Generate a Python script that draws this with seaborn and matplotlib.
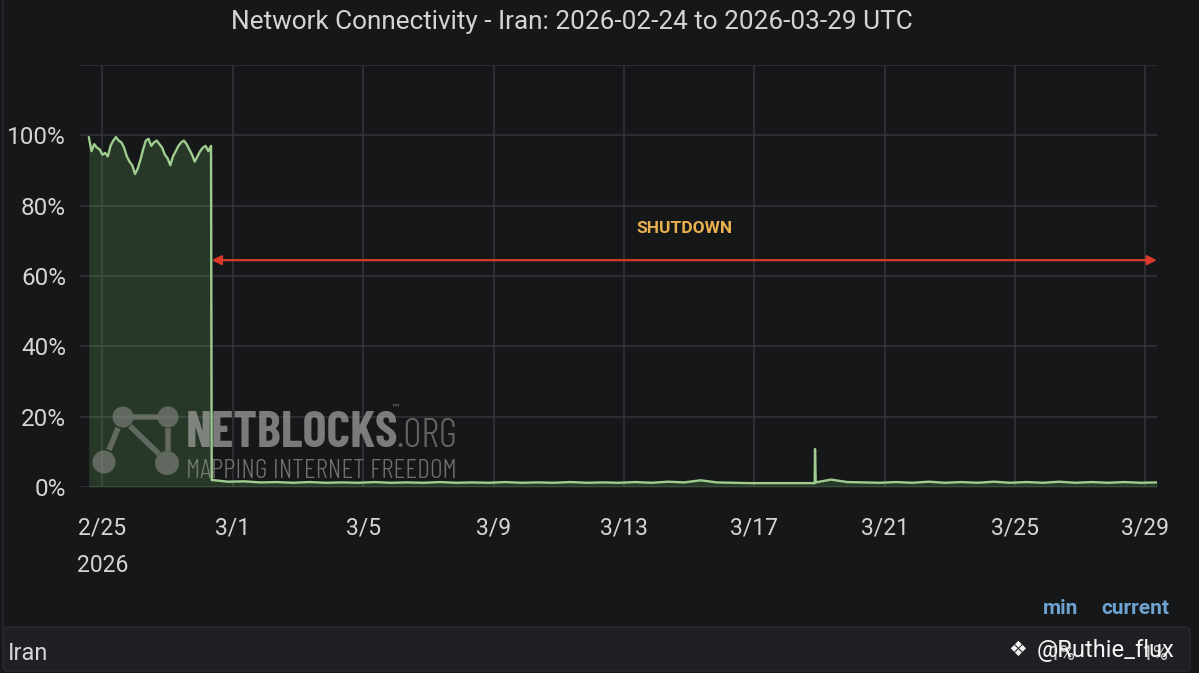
import matplotlib
matplotlib.use("Agg")
import matplotlib.pyplot as plt
import matplotlib.patches as mpatches
import numpy as np
import pandas as pd
import seaborn as sns

# connectivity before the shutdown, every 2 hours from 2026-02-24 14:00 UTC (%)
pre_start = "2026-02-24 14:00"
pre_values = [
    99.5, 95.5, 97.5, 96.5, 96.0, 94.5, 95.0, 94.0, 97.0, 98.5,
    99.5, 98.5, 98.0, 96.5, 94.0, 92.5, 91.5, 89.0, 90.5, 93.0,
    96.0, 98.5, 99.0, 97.0, 98.0, 98.5, 97.5, 96.5, 94.5, 93.5,
    91.5, 94.0, 95.5, 97.0, 98.0, 98.5, 97.5, 96.0, 94.5, 92.5,
    94.0, 95.5, 96.5, 97.0, 95.5, 97.0,
]

# connectivity during the shutdown, every 12 hours from 2026-02-28 08:30 UTC (%)
post_start = "2026-02-28 08:30"
post_values = [
    2.0, 1.5, 1.6, 1.3, 1.4, 1.2, 1.4, 1.2, 1.3, 1.2,
    1.4, 1.2, 1.3, 1.2, 1.4, 1.2, 1.3, 1.2, 1.4, 1.2,
    1.3, 1.2, 1.4, 1.2, 1.3, 1.2, 1.4, 1.2, 1.5, 1.3,
    1.9, 1.3, 1.2, 1.1, 1.1, 1.1, 1.1, 1.1, 2.1, 1.4,
    1.3, 1.2, 1.4, 1.2, 1.5, 1.2, 1.4, 1.2, 1.5, 1.2,
    1.4, 1.2, 1.5, 1.2, 1.4, 1.2, 1.4, 1.2, 1.3,
]

# short spike on 3/18
spike_times = ["2026-03-18 20:45", "2026-03-18 21:15"]
spike_values = [10.8, 1.3]

x_ticks = ["2026-02-25", "2026-03-01", "2026-03-05", "2026-03-09", "2026-03-13",
           "2026-03-17", "2026-03-21", "2026-03-25", "2026-03-29"]
x_labels = ["2/25\n2026", "3/1", "3/5", "3/9", "3/13", "3/17", "3/21", "3/25", "3/29"]
y_ticks = [0, 20, 40, 60, 80, 100, 120]
y_labels = ["0%", "20%", "40%", "60%", "80%", "100%", ""]

title = "Network Connectivity - Iran: 2026-02-24 to 2026-03-29 UTC"
series_name = "Iran"
legend_cols = ["min", "current"]
legend_vals = ["1%", "1%"]

pre = pd.DataFrame({
    "time": pd.date_range(pre_start, periods=len(pre_values), freq="2h"),
    "value": pre_values,
})
post = pd.DataFrame({
    "time": pd.date_range(post_start, periods=len(post_values), freq="12h"),
    "value": post_values,
})
spike = pd.DataFrame({"time": pd.to_datetime(spike_times), "value": spike_values})
df = pd.concat([pre, post, spike]).sort_values("time").reset_index(drop=True)

bg = "#161719"
text_c = "#d3d4d6"
grid_c = "#34353a"
line_c = "#9fcd8f"

sns.set_theme(style="dark", rc={
    "figure.facecolor": bg,
    "axes.facecolor": bg,
    "savefig.facecolor": bg,
    "axes.edgecolor": bg,
    "text.color": text_c,
    "xtick.color": text_c,
    "ytick.color": text_c,
})
plt.rcParams["font.family"] = ["Roboto", "DejaVu Sans"]

fig = plt.figure(figsize=(11.99, 6.73), dpi=100)
ax = fig.add_axes([0.0667, 0.2764, 0.8982, 0.6270])

ax.fill_between(df["time"], df["value"], 0, color="#73bf69", alpha=0.2, lw=0, zorder=2)
sns.lineplot(data=df, x="time", y="value", ax=ax, color=line_c, linewidth=1.7, zorder=3)

ax.set_xlim(pd.Timestamp("2026-02-24 07:30"), pd.Timestamp("2026-03-29 08:30"))
ax.set_ylim(0, 120)
ax.set_xticks(pd.to_datetime(x_ticks))
ax.set_xticklabels(x_labels, fontsize=16.5, linespacing=1.85, va="top")
ax.set_yticks(y_ticks)
ax.set_yticklabels(y_labels, fontsize=17.5)
ax.tick_params(axis="x", length=0, pad=21)
ax.tick_params(axis="y", length=0, pad=10)
ax.grid(True, color=grid_c, linewidth=1.1)
ax.set_axisbelow(True)
ax.set_xlabel("")
ax.set_ylabel("")
for s in ax.spines.values():
    s.set_visible(False)

# shutdown span, from the drop to the latest sample
shut_start = post["time"].iloc[0]
shut_end = df["time"].iloc[-1]
arrow_y = 64.5
ax.annotate("", xy=(shut_start, arrow_y), xytext=(shut_end, arrow_y),
            arrowprops=dict(arrowstyle="<|-|>", color="#d93a2b", lw=1.6,
                            mutation_scale=14, shrinkA=0, shrinkB=0), zorder=5)
ax.text(shut_start + (shut_end - shut_start) / 2, 73.5, "SHUTDOWN",
        color="#e9b14f", fontsize=12.5, fontweight="bold", ha="center", va="center")

# overlay in pixel coordinates for title, watermark and legend
ov = fig.add_axes([0, 0, 1, 1], zorder=10)
ov.set_xlim(0, 1199)
ov.set_ylim(673, 0)
ov.axis("off")
ov.patch.set_alpha(0)

ov.text(572, 22, title, fontsize=18.8, color=text_c, ha="center", va="center")

# legend band
ov.add_patch(mpatches.FancyBboxPatch((3, 627), 1187, 44, boxstyle="round,pad=0,rounding_size=5",
                                     facecolor="#1f2023", edgecolor="#2a2b2f", lw=1))
ov.plot([3, 3], [0, 640], color="#26272b", lw=1.2)
ov.text(8, 653, series_name, fontsize=17, color=text_c, ha="left", va="center")
for cx, lab in zip([1061, 1135], legend_cols):
    ov.text(cx, 609, lab, fontsize=15, color="#6ea3d1", ha="center", va="center", fontweight="bold")
for cx, val in zip([1062, 1155], legend_vals):
    ov.text(cx, 654, val, fontsize=15, color="#c8c9cb", ha="center", va="center")

# repost watermark
ov.text(1018, 650, "\u2756", fontsize=15, color="#f2f2f2", ha="center", va="center",
        family=["DejaVu Sans"])
ov.text(1037, 650, "@Ruthie_flux", fontsize=17, color="#f4f4f4", ha="left", va="center")

# NetBlocks watermark
wm = "#8f918e"
for (cx, cy, r) in [(123, 417, 10.5), (168, 417, 10.5), (104, 462, 11.5), (167, 463, 12)]:
    ov.add_patch(mpatches.Circle((cx, cy), r, color=wm, alpha=0.55, lw=0))
for (x0, y0, x1, y1) in [(133, 417, 158, 417), (118, 428, 109, 450), (130, 426, 159, 454),
                         (168, 428, 168, 451)]:
    ov.plot([x0, x1], [y0, y1], color=wm, alpha=0.55, lw=4, solid_capstyle="butt")
narrow = ["Barlow Condensed", "DejaVu Sans"]
ov.text(186, 447, "NETBLOCKS", fontsize=36.5, fontweight=700, color="#9c9e9b", alpha=0.75,
        ha="left", va="baseline", family=narrow)
ov.text(396, 447, ".ORG", fontsize=29, fontweight=300, color="#7d7f7c", alpha=0.75,
        ha="left", va="baseline", family=narrow)
ov.text(391, 410, "\u2122", fontsize=7, color="#9c9e9b", alpha=0.75, ha="left", va="baseline",
        family=["DejaVu Sans"])
ov.text(186, 478, "MAPPING INTERNET FREEDOM", fontsize=20, fontweight=300, color="#8d8f8c",
        alpha=0.75, ha="left", va="baseline", family=narrow)

fig.savefig("out.png", dpi=100, facecolor=bg)
